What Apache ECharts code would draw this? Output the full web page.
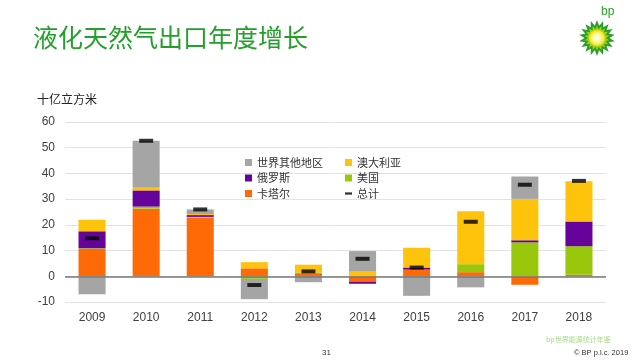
<!DOCTYPE html>
<html><head><meta charset="utf-8">
<script src="https://cdn.jsdelivr.net/npm/echarts@6/dist/echarts.min.js"></script>
<style>html,body{margin:0;padding:0;background:#fff}#c{width:640px;height:360px}</style>
</head><body><div id="c"></div>
<script>
const years = ['2009','2010','2011','2012','2013','2014','2015','2016','2017','2018'];
const qatar = [10.7, 26.3, 22.9, 3.1, 1.2, -2.1, 2.6, 1.6, -3.3, 0.6];
const usa = [0.2, 0.8, 0.2, -1.0, 0.3, 0, 0, 3.1, 13.2, 11.1];
const russia = [6.6, 6.3, 0.7, 0, 0, -0.8, 0.8, 0, 0.8, 9.6];
const australia = [4.5, 1.0, 0.4, 2.4, 3.0, 1.8, 7.7, 20.6, 16.1, 15.7];
const restOfWorld = [-7.0, 18.3, 1.8, -7.9, -2.3, 8.0, -7.6, -4.3, 8.7, 0];
const total = [14.8, 52.7, 26.0, -3.4, 1.9, 6.8, 3.4, 21.2, 35.6, 37.1];
const yTicks = [-10, 0, 10, 20, 30, 40, 50, 60];

const names = {qatar:'卡塔尔', usa:'美国', russia:'俄罗斯', aus:'澳大利亚', row:'世界其他地区', total:'总计'};
const colors = {qatar:'#fd6a06', usa:'#98c70c', russia:'#65039a', aus:'#fec40c', row:'#a5a5a5'};

const chart = echarts.init(document.getElementById('c'), null, {renderer:'canvas'});

function bar(name, data, color, extra){
  return Object.assign({type:'bar', name, data, stack:'s', barWidth:'50%', itemStyle:{color}, emphasis:{disabled:true}}, extra||{});
}

// bp logo star points
function starPts(cx, cy, r1, r2, n){
  const pts=[];
  for(let i=0;i<n*2;i++){
    const a = Math.PI*i/n - Math.PI/2;
    const r = i%2===0 ? r1 : r2;
    pts.push([cx+r*Math.cos(a), cy+r*Math.sin(a)]);
  }
  return pts;
}
const lcx=597, lcy=38;

const legendText = {fontSize:11, color:'#333', fontFamily:'Noto Sans CJK SC'};
chart.setOption({
  animation:false,
  textStyle:{fontFamily:'Liberation Sans'},
  grid:{left:65, right:34, top:122, bottom:58},
  xAxis:{type:'category', data:years, axisLine:{show:false}, axisTick:{show:false},
    axisLabel:{margin:10, fontSize:12, color:'#404040', fontFamily:'Liberation Sans'}},
  yAxis:{type:'value', min:-10, max:60, interval:10,
    axisLabel:{fontSize:12, color:'#404040', margin:10, fontFamily:'Liberation Sans'},
    splitLine:{lineStyle:{color:'#e3e3e3', width:1}}},
  legend:[
    {orient:'vertical', left:240, top:152, itemWidth:7, itemHeight:7, itemGap:4.5, itemStyle:{borderWidth:0}, textStyle:legendText,
     data:[{name:names.row, icon:'rect'},{name:names.russia, icon:'rect'},{name:names.qatar, icon:'rect'}], selectedMode:false},
    {orient:'vertical', left:340, top:152, itemWidth:7, itemHeight:7, itemGap:4.5, itemStyle:{borderWidth:0}, textStyle:legendText,
     data:[{name:names.aus, icon:'rect'},{name:names.usa, icon:'rect'},{name:names.total, icon:'path://M0,0H8V2.6H0Z'}], selectedMode:false}
  ],
  series:[
    bar(names.qatar, qatar, colors.qatar, {markLine:{silent:true, symbol:'none', label:{show:false},
      lineStyle:{color:'#777', width:1.5, type:'solid'}, data:[{yAxis:0}]}}),
    bar(names.usa, usa, colors.usa),
    bar(names.russia, russia, colors.russia),
    bar(names.aus, australia, colors.aus),
    bar(names.row, restOfWorld, colors.row),
    {type:'scatter', name:names.total, data:total, symbol:'rect', symbolSize:[14,4], itemStyle:{color:'#000'}, z:5, emphasis:{disabled:true}}
  ],
  graphic:[
    {type:'text', left:33, top:25, style:{text:'液化天然气出口年度增长', fontSize:25, fill:'#22a02a', fontFamily:'Noto Sans CJK SC'}},
    {type:'text', left:37, top:93, style:{text:'十亿立方米', fontSize:12, fill:'#222', fontFamily:'Noto Sans CJK SC'}},
    {type:'polygon', shape:{points:starPts(lcx,lcy,18,12.5,18)}, style:{fill:'#2e9e2a'}},
    {type:'polygon', shape:{points:starPts(lcx,lcy,12.5,9,18)}, style:{fill:'#9fd21c'}},
    {type:'circle', shape:{cx:lcx, cy:lcy, r:8}, style:{fill:{type:'radial', x:0.5, y:0.5, r:0.5, colorStops:[{offset:0,color:'#ffffff'},{offset:0.5,color:'#fff8a0'},{offset:1,color:'#f5e000'}]}}},
    {type:'text', left:601, top:6, style:{text:'bp', fontSize:12, fill:'#2e9e2a', fontFamily:'Liberation Sans'}},
    {type:'text', left:546, top:336, style:{text:'bp世界能源统计年鉴', fontSize:7, fill:'#a9d98e', fontFamily:'Noto Sans CJK SC'}},
    {type:'text', left:322, top:349, style:{text:'31', fontSize:8, fill:'#333', fontFamily:'Liberation Sans'}},
    {type:'text', left:574, top:349, style:{text:'© BP p.l.c. 2019', fontSize:7.5, fill:'#333', fontFamily:'Liberation Sans'}}
  ]
});
</script></body></html>
